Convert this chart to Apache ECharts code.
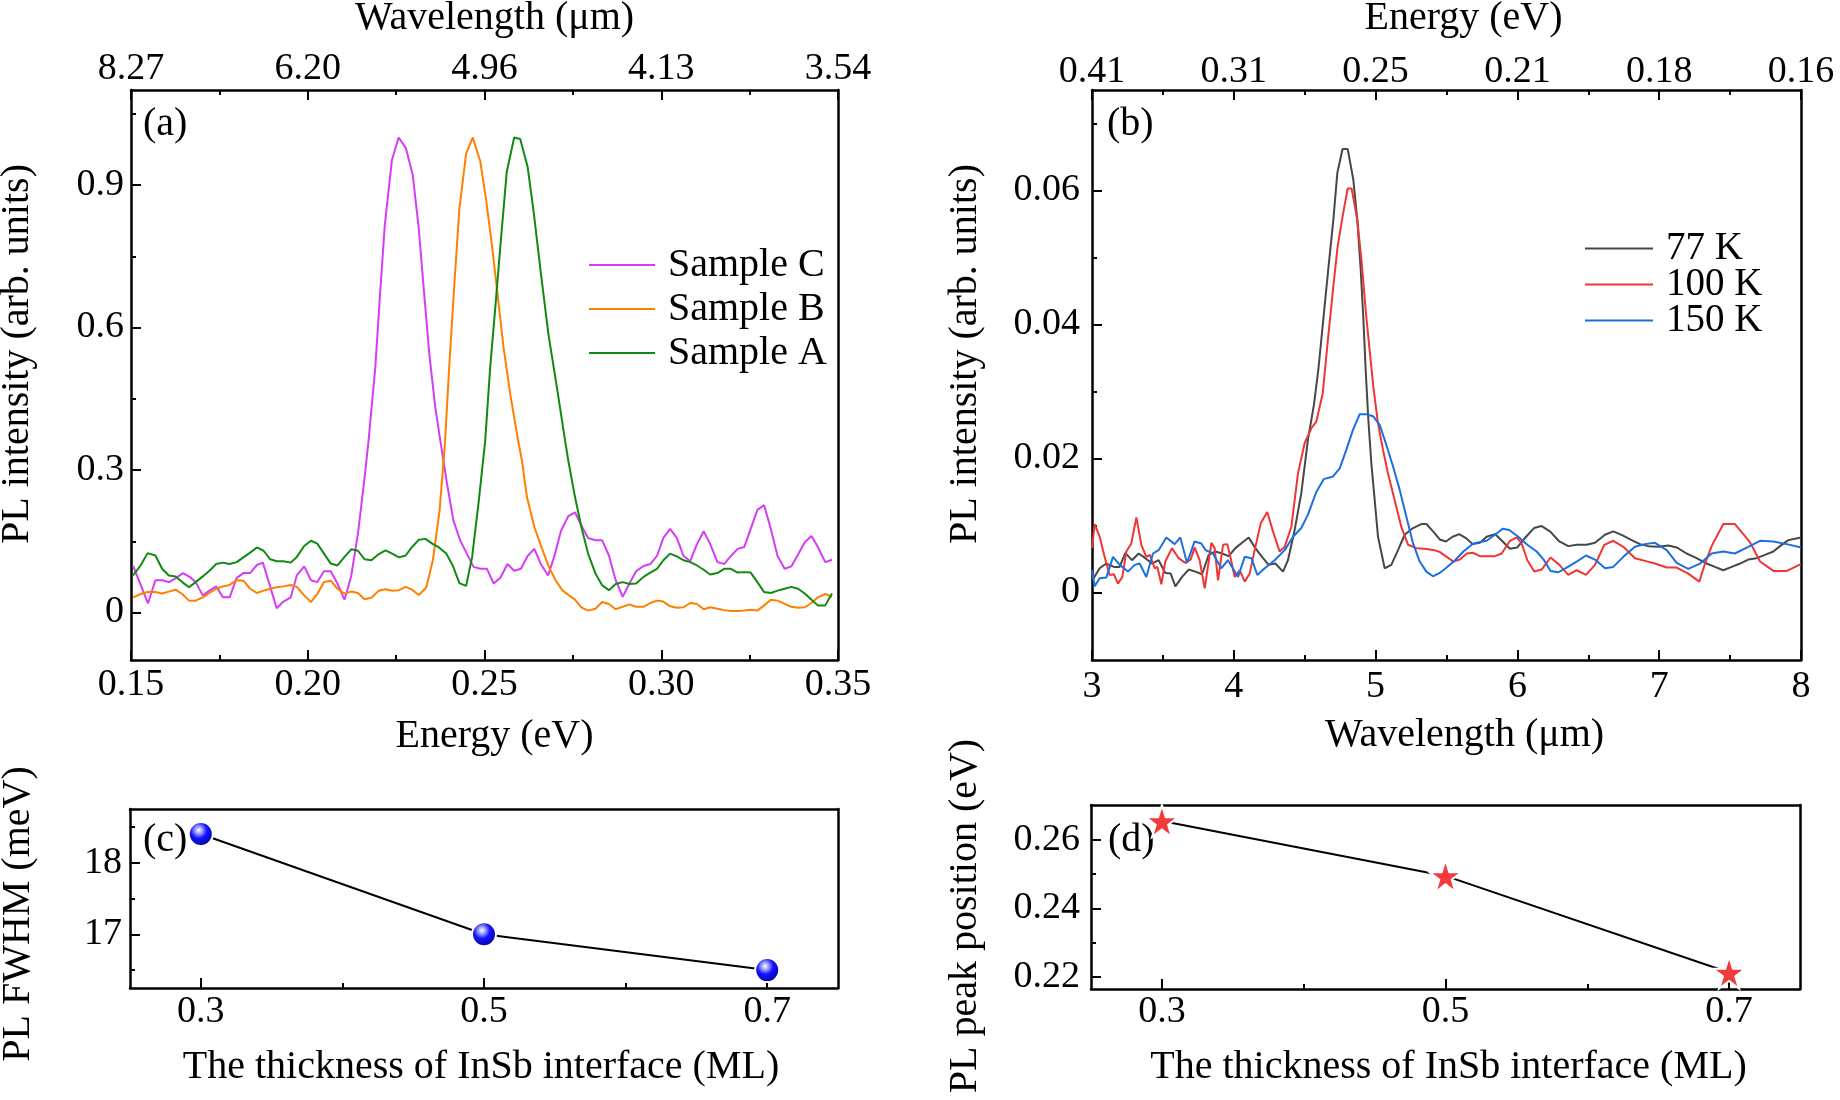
<!DOCTYPE html>
<html>
<head>
<meta charset="utf-8">
<title>PL spectra of InSb interface samples</title>
<script src="https://cdn.jsdelivr.net/npm/echarts@6/dist/echarts.min.js"></script>
<style>
  html, body { margin: 0; padding: 0; background: #fff; }
  #chart { width: 1840px; height: 1100px; }
</style>
</head>
<body>
<div id="chart"></div>
<script>
// ---------------- (a) PL spectra of the three samples, [energy eV, intensity] ----------------
const sampleC = [
  [0.1506, 0.098], [0.1548, 0.019], [0.1569, 0.068], [0.1588, 0.068], [0.1607, 0.064], [0.1626, 0.072],
  [0.1647, 0.083], [0.1666, 0.075], [0.1683, 0.064], [0.1703, 0.036], [0.1722, 0.046], [0.1741, 0.055],
  [0.1760, 0.032], [0.1779, 0.032], [0.1799, 0.073], [0.1818, 0.083], [0.1837, 0.083], [0.1856, 0.100],
  [0.1873, 0.105], [0.1894, 0.054], [0.1912, 0.009], [0.1931, 0.023], [0.1952, 0.032], [0.1969, 0.078],
  [0.1990, 0.097], [0.2009, 0.068], [0.2027, 0.064], [0.2046, 0.087], [0.2065, 0.087], [0.2084, 0.061],
  [0.2104, 0.027], [0.2123, 0.077], [0.2142, 0.166], [0.2161, 0.285], [0.2172, 0.362], [0.2191, 0.515],
  [0.2205, 0.676], [0.2218, 0.816], [0.2238, 0.952], [0.2257, 1.0], [0.2278, 0.977], [0.2297, 0.921],
  [0.2314, 0.809], [0.2328, 0.683], [0.2344, 0.543], [0.2361, 0.431], [0.2375, 0.362], [0.2394, 0.271],
  [0.2412, 0.194], [0.2431, 0.152], [0.2450, 0.124], [0.2469, 0.096], [0.2488, 0.092], [0.2507, 0.092],
  [0.2526, 0.061], [0.2545, 0.073], [0.2565, 0.102], [0.2584, 0.088], [0.2603, 0.092], [0.2622, 0.119],
  [0.2641, 0.134], [0.2660, 0.101], [0.2680, 0.078], [0.2697, 0.117], [0.2716, 0.171], [0.2737, 0.203],
  [0.2756, 0.211], [0.2774, 0.183], [0.2793, 0.157], [0.2814, 0.152], [0.2833, 0.152], [0.2852, 0.120],
  [0.2871, 0.068], [0.2891, 0.033], [0.2910, 0.061], [0.2929, 0.087], [0.2950, 0.098], [0.2969, 0.102],
  [0.2988, 0.119], [0.3006, 0.157], [0.3025, 0.176], [0.3044, 0.157], [0.3063, 0.119], [0.3082, 0.108],
  [0.3101, 0.144], [0.3120, 0.171], [0.3138, 0.145], [0.3159, 0.106], [0.3178, 0.102], [0.3197, 0.119],
  [0.3216, 0.134], [0.3235, 0.138], [0.3253, 0.176], [0.3272, 0.216], [0.3291, 0.226], [0.3310, 0.176],
  [0.3329, 0.119], [0.3349, 0.092], [0.3368, 0.097], [0.3387, 0.122], [0.3406, 0.148], [0.3425, 0.161],
  [0.3443, 0.138], [0.3464, 0.106], [0.3483, 0.111]
]
const sampleB = [
  [0.1506, 0.032], [0.1527, 0.039], [0.1547, 0.043], [0.1569, 0.043], [0.1588, 0.040], [0.1607, 0.044],
  [0.1626, 0.048], [0.1645, 0.039], [0.1664, 0.025], [0.1683, 0.025], [0.1703, 0.032], [0.1722, 0.041],
  [0.1741, 0.050], [0.1760, 0.055], [0.1779, 0.058], [0.1799, 0.068], [0.1818, 0.067], [0.1837, 0.050],
  [0.1856, 0.041], [0.1875, 0.046], [0.1894, 0.050], [0.1912, 0.053], [0.1931, 0.055], [0.1952, 0.058],
  [0.1969, 0.054], [0.1990, 0.036], [0.2009, 0.022], [0.2027, 0.039], [0.2046, 0.064], [0.2065, 0.067],
  [0.2084, 0.050], [0.2104, 0.040], [0.2123, 0.044], [0.2142, 0.041], [0.2161, 0.028], [0.2180, 0.031],
  [0.2201, 0.046], [0.2220, 0.049], [0.2239, 0.046], [0.2258, 0.047], [0.2277, 0.054], [0.2295, 0.048],
  [0.2314, 0.037], [0.2335, 0.052], [0.2354, 0.110], [0.2373, 0.215], [0.2388, 0.355], [0.2400, 0.515],
  [0.2414, 0.683], [0.2429, 0.851], [0.2448, 0.966], [0.2467, 1.0], [0.2488, 0.950], [0.2504, 0.872],
  [0.2521, 0.774], [0.2537, 0.669], [0.2554, 0.557], [0.2573, 0.459], [0.2595, 0.362], [0.2606, 0.320],
  [0.2620, 0.243], [0.2641, 0.180], [0.2663, 0.134], [0.2682, 0.096], [0.2701, 0.068], [0.2720, 0.047],
  [0.2739, 0.036], [0.2756, 0.027], [0.2774, 0.011], [0.2793, 0.004], [0.2814, 0.008], [0.2833, 0.022],
  [0.2852, 0.018], [0.2871, 0.007], [0.2891, 0.012], [0.2910, 0.017], [0.2929, 0.012], [0.2950, 0.012],
  [0.2969, 0.020], [0.2988, 0.025], [0.3006, 0.023], [0.3025, 0.013], [0.3044, 0.010], [0.3063, 0.011],
  [0.3082, 0.020], [0.3101, 0.018], [0.3120, 0.007], [0.3138, 0.011], [0.3159, 0.008], [0.3178, 0.005],
  [0.3197, 0.003], [0.3216, 0.003], [0.3235, 0.004], [0.3253, 0.006], [0.3272, 0.004], [0.3291, 0.015],
  [0.3310, 0.027], [0.3329, 0.025], [0.3349, 0.018], [0.3368, 0.012], [0.3387, 0.010], [0.3406, 0.011],
  [0.3425, 0.020], [0.3443, 0.032], [0.3464, 0.039], [0.3483, 0.033]
]
const sampleA = [
  [0.1506, 0.078], [0.1527, 0.099], [0.1547, 0.125], [0.1569, 0.120], [0.1588, 0.092], [0.1607, 0.078],
  [0.1626, 0.076], [0.1645, 0.064], [0.1664, 0.053], [0.1683, 0.064], [0.1703, 0.076], [0.1722, 0.088],
  [0.1741, 0.102], [0.1760, 0.105], [0.1779, 0.102], [0.1799, 0.106], [0.1818, 0.116], [0.1837, 0.126],
  [0.1856, 0.137], [0.1875, 0.130], [0.1894, 0.112], [0.1912, 0.108], [0.1931, 0.108], [0.1952, 0.105],
  [0.1969, 0.117], [0.1990, 0.140], [0.2009, 0.151], [0.2027, 0.145], [0.2046, 0.124], [0.2065, 0.103],
  [0.2084, 0.099], [0.2104, 0.117], [0.2123, 0.133], [0.2142, 0.130], [0.2161, 0.112], [0.2180, 0.110],
  [0.2201, 0.123], [0.2220, 0.131], [0.2239, 0.124], [0.2258, 0.116], [0.2277, 0.120], [0.2295, 0.138],
  [0.2314, 0.153], [0.2333, 0.155], [0.2352, 0.145], [0.2371, 0.137], [0.2392, 0.124], [0.2410, 0.099],
  [0.2429, 0.062], [0.2448, 0.056], [0.2465, 0.117], [0.2484, 0.236], [0.2502, 0.362], [0.2516, 0.515],
  [0.2532, 0.655], [0.2546, 0.781], [0.2563, 0.928], [0.2584, 1.0], [0.2601, 0.997], [0.2622, 0.938],
  [0.2639, 0.844], [0.2660, 0.711], [0.2681, 0.585], [0.2705, 0.473], [0.2728, 0.362], [0.2737, 0.320],
  [0.2756, 0.243], [0.2774, 0.180], [0.2793, 0.124], [0.2814, 0.082], [0.2833, 0.057], [0.2852, 0.047],
  [0.2871, 0.060], [0.2891, 0.064], [0.2910, 0.060], [0.2929, 0.061], [0.2950, 0.075], [0.2969, 0.084],
  [0.2988, 0.092], [0.3006, 0.110], [0.3025, 0.124], [0.3044, 0.118], [0.3063, 0.110], [0.3082, 0.106],
  [0.3101, 0.099], [0.3120, 0.090], [0.3138, 0.080], [0.3159, 0.083], [0.3178, 0.092], [0.3197, 0.092],
  [0.3216, 0.084], [0.3235, 0.085], [0.3253, 0.084], [0.3272, 0.064], [0.3291, 0.043], [0.3310, 0.041],
  [0.3329, 0.046], [0.3349, 0.050], [0.3368, 0.054], [0.3387, 0.050], [0.3406, 0.040], [0.3425, 0.027],
  [0.3443, 0.015], [0.3464, 0.015], [0.3483, 0.040]
]

// ---------------- (b) PL spectra at three temperatures, [wavelength um, intensity] ----------------
const k77 = [
  [3.005, 0.0019], [3.054, 0.0036], [3.101, 0.0043], [3.155, 0.0038], [3.195, 0.0038], [3.235, 0.0059],
  [3.282, 0.0048], [3.329, 0.0058], [3.376, 0.0051], [3.423, 0.0043], [3.470, 0.0048], [3.517, 0.0029],
  [3.555, 0.0028], [3.588, 0.0009], [3.635, 0.0023], [3.682, 0.0034], [3.729, 0.0031], [3.776, 0.0027],
  [3.823, 0.0056], [3.870, 0.0061], [3.917, 0.0058], [3.964, 0.0054], [4.011, 0.0066], [4.058, 0.0074],
  [4.105, 0.0082], [4.152, 0.0066], [4.199, 0.0053], [4.246, 0.0041], [4.293, 0.0043], [4.347, 0.0031],
  [4.382, 0.0048], [4.429, 0.0093], [4.476, 0.0148], [4.523, 0.0228], [4.565, 0.0280], [4.596, 0.0332],
  [4.631, 0.0407], [4.666, 0.0482], [4.702, 0.0556], [4.730, 0.0626], [4.767, 0.0662], [4.803, 0.0662],
  [4.843, 0.0616], [4.871, 0.0556], [4.895, 0.0482], [4.914, 0.0407], [4.930, 0.0332], [4.949, 0.0257],
  [4.970, 0.0193], [5.017, 0.0083], [5.064, 0.0036], [5.111, 0.0041], [5.158, 0.0063], [5.205, 0.0086],
  [5.264, 0.0096], [5.322, 0.0102], [5.358, 0.0102], [5.405, 0.0091], [5.452, 0.0079], [5.496, 0.0076],
  [5.543, 0.0083], [5.590, 0.0087], [5.637, 0.0081], [5.684, 0.0072], [5.736, 0.0074], [5.783, 0.0083],
  [5.842, 0.0087], [5.896, 0.0076], [5.948, 0.0065], [5.999, 0.0067], [6.061, 0.0083], [6.117, 0.0096],
  [6.171, 0.0099], [6.230, 0.0091], [6.296, 0.0076], [6.359, 0.0069], [6.418, 0.0071], [6.488, 0.0071],
  [6.547, 0.0074], [6.618, 0.0086], [6.676, 0.0091], [6.742, 0.0085], [6.806, 0.0078], [6.864, 0.0072],
  [6.923, 0.0069], [6.994, 0.0068], [7.064, 0.0070], [7.123, 0.0067], [7.193, 0.0058], [7.264, 0.0051],
  [7.335, 0.0043], [7.393, 0.0038], [7.452, 0.0033], [7.511, 0.0038], [7.570, 0.0043], [7.628, 0.0049],
  [7.687, 0.0051], [7.746, 0.0056], [7.805, 0.0061], [7.852, 0.0069], [7.911, 0.0078], [8.0, 0.0082]
]
const k100 = [
  [3.0, 0.0066], [3.019, 0.0102], [3.054, 0.0083], [3.089, 0.0053], [3.124, 0.0026], [3.155, 0.0027],
  [3.183, 0.0013], [3.214, 0.0023], [3.242, 0.0061], [3.277, 0.0073], [3.313, 0.0112], [3.348, 0.0071],
  [3.383, 0.0053], [3.407, 0.0056], [3.442, 0.0036], [3.461, 0.0038], [3.489, 0.0012], [3.517, 0.0046],
  [3.564, 0.0066], [3.611, 0.0051], [3.658, 0.0044], [3.696, 0.0049], [3.724, 0.0067], [3.759, 0.0048],
  [3.795, 0.0006], [3.842, 0.0074], [3.865, 0.0066], [3.889, 0.0018], [3.924, 0.0071], [3.954, 0.0072],
  [3.983, 0.0046], [4.006, 0.0023], [4.042, 0.0033], [4.077, 0.0016], [4.112, 0.0028], [4.147, 0.0063],
  [4.190, 0.0103], [4.236, 0.0120], [4.276, 0.0091], [4.323, 0.0061], [4.359, 0.0068], [4.406, 0.0098],
  [4.453, 0.0178], [4.500, 0.0223], [4.547, 0.0245], [4.582, 0.0255], [4.627, 0.0297], [4.666, 0.0382],
  [4.702, 0.0457], [4.732, 0.0516], [4.767, 0.0561], [4.803, 0.0603], [4.831, 0.0603], [4.871, 0.0556],
  [4.902, 0.0492], [4.932, 0.0417], [4.960, 0.0357], [4.984, 0.0307], [5.017, 0.0252], [5.052, 0.0213],
  [5.087, 0.0178], [5.134, 0.0138], [5.181, 0.0098], [5.229, 0.0071], [5.287, 0.0066], [5.346, 0.0065],
  [5.416, 0.0063], [5.454, 0.0060], [5.501, 0.0053], [5.548, 0.0046], [5.595, 0.0049], [5.642, 0.0058],
  [5.689, 0.0059], [5.736, 0.0054], [5.795, 0.0054], [5.842, 0.0054], [5.889, 0.0058], [5.948, 0.0077],
  [5.995, 0.0082], [6.030, 0.0073], [6.070, 0.0048], [6.119, 0.0031], [6.171, 0.0034], [6.234, 0.0052],
  [6.296, 0.0041], [6.359, 0.0026], [6.418, 0.0033], [6.484, 0.0026], [6.547, 0.0041], [6.613, 0.0071],
  [6.676, 0.0077], [6.747, 0.0068], [6.829, 0.0051], [6.900, 0.0047], [6.970, 0.0043], [7.053, 0.0037],
  [7.123, 0.0037], [7.205, 0.0028], [7.283, 0.0016], [7.323, 0.0043], [7.370, 0.0069], [7.452, 0.0102],
  [7.534, 0.0102], [7.640, 0.0075], [7.711, 0.0046], [7.805, 0.0032], [7.899, 0.0032], [8.0, 0.0042]
]
const k150 = [
  [3.0, 0.0033], [3.019, 0.0009], [3.054, 0.0021], [3.101, 0.0022], [3.148, 0.0053], [3.195, 0.0041],
  [3.254, 0.0031], [3.301, 0.0041], [3.336, 0.0043], [3.383, 0.0023], [3.430, 0.0058], [3.470, 0.0063],
  [3.524, 0.0082], [3.583, 0.0072], [3.623, 0.0082], [3.670, 0.0044], [3.724, 0.0076], [3.771, 0.0073],
  [3.801, 0.0063], [3.853, 0.0058], [3.912, 0.0036], [3.959, 0.0048], [4.030, 0.0023], [4.077, 0.0053],
  [4.124, 0.0051], [4.166, 0.0026], [4.218, 0.0036], [4.288, 0.0048], [4.359, 0.0063], [4.418, 0.0083],
  [4.476, 0.0096], [4.523, 0.0116], [4.582, 0.0150], [4.634, 0.0169], [4.700, 0.0173], [4.747, 0.0185],
  [4.794, 0.0213], [4.841, 0.0243], [4.888, 0.0266], [4.935, 0.0266], [4.982, 0.0263], [5.029, 0.0250],
  [5.076, 0.0220], [5.123, 0.0188], [5.170, 0.0153], [5.217, 0.0113], [5.264, 0.0073], [5.311, 0.0046],
  [5.358, 0.0031], [5.405, 0.0024], [5.452, 0.0029], [5.501, 0.0037], [5.560, 0.0048], [5.619, 0.0061],
  [5.689, 0.0073], [5.783, 0.0077], [5.842, 0.0086], [5.896, 0.0095], [5.943, 0.0093], [6.006, 0.0083],
  [6.070, 0.0071], [6.136, 0.0061], [6.188, 0.0048], [6.234, 0.0032], [6.289, 0.0030], [6.347, 0.0037],
  [6.418, 0.0046], [6.484, 0.0055], [6.554, 0.0048], [6.618, 0.0036], [6.676, 0.0038], [6.747, 0.0053],
  [6.829, 0.0068], [6.900, 0.0072], [6.970, 0.0074], [7.053, 0.0063], [7.123, 0.0044], [7.205, 0.0035],
  [7.288, 0.0043], [7.370, 0.0058], [7.452, 0.0061], [7.534, 0.0058], [7.628, 0.0068], [7.711, 0.0077],
  [7.805, 0.0076], [7.899, 0.0072], [8.0, 0.0067]
]

// ---------------- (c)(d) vs InSb interface thickness ----------------
const thickness = [0.3, 0.5, 0.7]
const fwhm = [18.4, 17.0, 16.5] // meV
const peakPos = [0.2655, 0.2495, 0.2213] // eV

// ---------------- ticks and labels ----------------
const energyTicks = [0.15, 0.2, 0.25, 0.3, 0.35]
const energyMinor = [0.175, 0.225, 0.275, 0.325]
const energyLabels = ['0.15', '0.20', '0.25', '0.30', '0.35']
const wavelengthTopLabels = ['8.27', '6.20', '4.96', '4.13', '3.54']
const intensityTicksA = [0, 0.3, 0.6, 0.9]
const intensityMinorA = [0.15, 0.45, 0.75, 1.05]
const intensityLabelsA = ['0', '0.3', '0.6', '0.9']

const wavelengthTicks = [3, 4, 5, 6, 7, 8]
const wavelengthMinor = [3.5, 4.5, 5.5, 6.5, 7.5]
const wavelengthLabels = ['3', '4', '5', '6', '7', '8']
const energyTopLabels = ['0.41', '0.31', '0.25', '0.21', '0.18', '0.16']
const intensityTicksB = [0, 0.02, 0.04, 0.06]
const intensityMinorB = [0.01, 0.03, 0.05, 0.07]
const intensityLabelsB = ['0', '0.02', '0.04', '0.06']

const thicknessTicks = [0.3, 0.5, 0.7]
const thicknessMinor = [0.4, 0.6]
const thicknessLabels = ['0.3', '0.5', '0.7']
const fwhmTicks = [17, 18]
const fwhmMinor = [16.5, 17.5, 18.5]
const fwhmLabels = ['17', '18']
const peakTicks = [0.22, 0.24, 0.26]
const peakMinor = [0.23, 0.25]
const peakLabels = ['0.22', '0.24', '0.26']

// ---------------- style helpers ----------------
// no serif face is installed here, so this falls through to the default face
const FONT = '"Liberation Serif", "DejaVu Serif", serif'
const INK = '#000'
const xAxes = []
const yAxes = []

// value -> label text, picked by nearest tick
function labelFor(ticks, labels) {
  return function (v) {
    let best = 0
    for (let i = 1; i < ticks.length; i++) {
      if (Math.abs(ticks[i] - v) < Math.abs(ticks[best] - v)) best = i
    }
    return labels[best]
  }
}

// frame axis with major ticks (and labels if given)
function mainAxis(grid, position, min, max, ticks, labels, margin, extra) {
  const a = {
    type: 'value', gridIndex: grid, position: position, min: min, max: max,
    axisLine: { show: true, onZero: false, lineStyle: { color: INK, width: 2.5 } },
    axisTick: ticks
      ? { show: true, inside: true, length: 10, customValues: ticks, lineStyle: { color: INK, width: 2 } }
      : { show: false },
    axisLabel: labels
      ? { show: true, customValues: ticks, formatter: labelFor(ticks, labels), margin: margin,
          color: INK, fontFamily: FONT, fontSize: 38 }
      : { show: false },
    splitLine: { show: false },
    minorTick: { show: false },
  }
  return Object.assign(a, extra || {})
}

// invisible axis that only carries the short minor ticks
function minorAxis(grid, position, min, max, ticks) {
  return {
    type: 'value', gridIndex: grid, position: position, min: min, max: max,
    axisLine: { show: false, onZero: false },
    axisTick: { show: true, inside: true, length: 5, customValues: ticks, lineStyle: { color: INK, width: 2 } },
    axisLabel: { show: false },
    splitLine: { show: false },
  }
}

function axisName(text, gap, shift) {
  return {
    name: text, nameLocation: 'middle', nameGap: gap,
    nameTextStyle: {
      fontFamily: FONT, fontSize: 40, color: INK,
      padding: shift >= 0 ? [0, 0, 0, 2 * shift] : [0, -2 * shift, 0, 0],
    },
  }
}

// ---- panel (a) axes ----
xAxes.push(mainAxis(0, 'bottom', 0.15, 0.35, energyTicks, energyLabels, 6, axisName('Energy (eV)', 56, 10)))
xAxes.push(minorAxis(0, 'bottom', 0.15, 0.35, energyMinor))
xAxes.push(mainAxis(0, 'top', 0.15, 0.35, energyTicks, wavelengthTopLabels, 1.5, axisName('Wavelength (\u03bcm)', 52, 10)))
xAxes.push(minorAxis(0, 'top', 0.15, 0.35, energyMinor))
yAxes.push(mainAxis(0, 'left', -0.1, 1.1, intensityTicksA, intensityLabelsA, 7))
yAxes.push(minorAxis(0, 'left', -0.1, 1.1, intensityMinorA))
yAxes.push(mainAxis(0, 'right', -0.1, 1.1, null, null))

// ---- panel (b) axes ----
xAxes.push(mainAxis(1, 'bottom', 3, 8, wavelengthTicks, wavelengthLabels, 8, axisName('Wavelength (\u03bcm)', 55, 18)))
xAxes.push(minorAxis(1, 'bottom', 3, 8, wavelengthMinor))
xAxes.push(mainAxis(1, 'top', 3, 8, wavelengthTicks, energyTopLabels, -1.5, axisName('Energy (eV)', 52, 17)))
xAxes.push(minorAxis(1, 'top', 3, 8, wavelengthMinor))
yAxes.push(mainAxis(1, 'left', -0.0101, 0.075, intensityTicksB, intensityLabelsB, 12))
yAxes.push(minorAxis(1, 'left', -0.0101, 0.075, intensityMinorB))
yAxes.push(mainAxis(1, 'right', -0.0101, 0.075, null, null))

// ---- panel (c) axes ----
xAxes.push(mainAxis(2, 'bottom', 0.25, 0.75, thicknessTicks, thicknessLabels, 5,
  axisName('The thickness of InSb interface (ML)', 59, -3)))
xAxes.push(minorAxis(2, 'bottom', 0.25, 0.75, thicknessMinor))
xAxes.push(mainAxis(2, 'top', 0.25, 0.75, null, null))
yAxes.push(mainAxis(2, 'left', 16.25, 18.75, fwhmTicks, fwhmLabels, 8))
yAxes.push(minorAxis(2, 'left', 16.25, 18.75, fwhmMinor))
yAxes.push(mainAxis(2, 'right', 16.25, 18.75, null, null))

// ---- panel (d) axes ----
xAxes.push(mainAxis(3, 'bottom', 0.25, 0.75, thicknessTicks, thicknessLabels, 4,
  axisName('The thickness of InSb interface (ML)', 58, 3)))
xAxes.push(minorAxis(3, 'bottom', 0.25, 0.75, thicknessMinor))
xAxes.push(mainAxis(3, 'top', 0.25, 0.75, null, null))
yAxes.push(mainAxis(3, 'left', 0.2165, 0.2702, peakTicks, peakLabels, 11))
yAxes.push(minorAxis(3, 'left', 0.2165, 0.2702, peakMinor))
yAxes.push(mainAxis(3, 'right', 0.2165, 0.2702, null, null))

function spectrum(name, data, color, xi, yi) {
  return {
    name: name, type: 'line', data: data, xAxisIndex: xi, yAxisIndex: yi,
    symbol: 'none', showSymbol: false, smooth: false,
    lineStyle: { color: color, width: 2 }, itemStyle: { color: color },
  }
}

const sphere = {
  type: 'radial', x: 0.42, y: 0.35, r: 0.7,
  colorStops: [
    { offset: 0, color: '#ffffff' },
    { offset: 0.2, color: '#9c9cff' },
    { offset: 0.45, color: '#1212ff' },
    { offset: 1, color: '#00008c' },
  ],
}
const star = 'path://M50 2 L61.8 37.6 L99 37.6 L69 59.5 L80.4 95 L50 73 L19.6 95 L31 59.5 L1 37.6 L38.2 37.6 Z'

function trend(ys, xi, yi, symbol, size, color) {
  return {
    type: 'line', xAxisIndex: xi, yAxisIndex: yi,
    data: thickness.map((t, i) => [t, ys[i]]),
    symbol: symbol, symbolSize: size, showSymbol: true,
    lineStyle: { color: '#000', width: 2 },
    itemStyle: { color: color, borderColor: '#fff', borderWidth: 2 },
  }
}

function textItem(text, x, y, rotate) {
  return {
    type: 'text', x: x, y: y, rotation: rotate ? Math.PI / 2 : 0,
    style: {
      text: text, fill: INK, font: '40px ' + FONT,
      align: rotate ? 'center' : 'left', verticalAlign: 'middle',
      textAlign: rotate ? 'center' : 'left', textVerticalAlign: 'middle',
    },
  }
}

// legend entries drawn as plain short lines
const legendCommon = {
  orient: 'vertical', icon: 'rect', itemHeight: 2, selectedMode: false,
}

const option = {
  animation: false,
  backgroundColor: '#fff',
  grid: [
    { left: 131, top: 90, width: 707, height: 570, outerBoundsMode: 'none' },
    { left: 1092, top: 90, width: 709, height: 570, outerBoundsMode: 'none' },
    { left: 130, top: 809, width: 708, height: 179, outerBoundsMode: 'none' },
    { left: 1091, top: 805, width: 709, height: 184, outerBoundsMode: 'none' },
  ],
  xAxis: xAxes,
  yAxis: yAxes,
  legend: [
    Object.assign({}, legendCommon, {
      data: ['Sample C', 'Sample B', 'Sample A'], left: 584, top: 240, itemWidth: 66, itemGap: 4,
      textStyle: { fontFamily: FONT, fontSize: 40, lineHeight: 40, color: INK, padding: [0, 0, 0, 8] },
    }),
    Object.assign({}, legendCommon, {
      data: ['77 K', '100 K', '150 K'], left: 1580, top: 224, itemWidth: 68, itemGap: -3,
      textStyle: { fontFamily: FONT, fontSize: 39, lineHeight: 36, color: INK, padding: [0, 0, 0, 8] },
    }),
  ],
  graphic: [
    textItem('PL intensity (arb. units)', 17, 354, true),
    textItem('PL intensity (arb. units)', 965, 354, true),
    textItem('PL FWHM (meV)', 18, 914, true),
    textItem('PL peak position (eV)', 965, 916, true),
    textItem('(a)', 143, 124),
    textItem('(b)', 1107, 124),
    textItem('(c)', 143, 840),
    textItem('(d)', 1108, 840),
  ],
  series: [
    spectrum('Sample C', sampleC, '#d53df5', 0, 0),
    spectrum('Sample B', sampleB, '#ff8000', 0, 0),
    spectrum('Sample A', sampleA, '#118a11', 0, 0),
    spectrum('77 K', k77, '#474747', 4, 3),
    spectrum('100 K', k100, '#ef3535', 4, 3),
    spectrum('150 K', k150, '#1d6fe0', 4, 3),
    trend(fwhm, 8, 6, 'circle', 24, sphere),
    trend(peakPos, 11, 9, star, 32, '#f23a3a'),
  ],
}

const myChart = echarts.init(document.getElementById('chart'), null, { renderer: 'canvas' })
myChart.setOption(option)
</script>
</body>
</html>
